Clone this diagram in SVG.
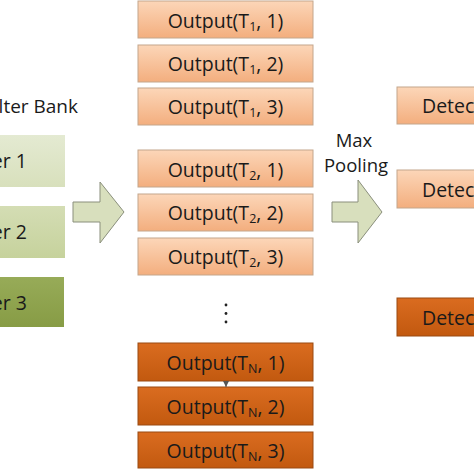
<svg xmlns="http://www.w3.org/2000/svg" width="474" height="474" viewBox="0 0 474 474">
<defs>
<linearGradient id="gLight" x1="0" y1="0" x2="0" y2="1">
<stop offset="0" stop-color="#fcd6b8"/>
<stop offset="1" stop-color="#f3ae7e"/>
</linearGradient>
<linearGradient id="gDark" x1="0" y1="0" x2="0" y2="1">
<stop offset="0" stop-color="#da6c20"/>
<stop offset="1" stop-color="#c2590f"/>
</linearGradient>
<linearGradient id="gF1" x1="0" y1="0" x2="0" y2="1">
<stop offset="0" stop-color="#e4ead2"/>
<stop offset="1" stop-color="#d8e0bc"/>
</linearGradient>
<linearGradient id="gF2" x1="0" y1="0" x2="0" y2="1">
<stop offset="0" stop-color="#d4ddb4"/>
<stop offset="1" stop-color="#c6d29c"/>
</linearGradient>
<linearGradient id="gF3" x1="0" y1="0" x2="0" y2="1">
<stop offset="0" stop-color="#97ab58"/>
<stop offset="1" stop-color="#879c45"/>
</linearGradient>
<marker id="tri" viewBox="0 0 10 10" refX="10" refY="5" markerWidth="6" markerHeight="6" orient="auto" markerUnits="userSpaceOnUse">
<path d="M0,0 L10,5 L0,10 z" fill="#555"/>
</marker>
<style>
text{font-family:"Open Sans","Liberation Sans",sans-serif;font-size:19.5px;fill:#1a1a1a}
.lbl{font-size:19px}
.mp{font-size:18.5px}
.lt{fill:url(#gLight);stroke:#c4a68c;stroke-width:1}
.dk{fill:url(#gDark);stroke:#9a4a12;stroke-width:1}
.blk{fill:#d8dfbd;stroke:#8a8f7c;stroke-width:1}
.sub{font-size:12.5px}
</style>
</defs>

<text x="78" y="113" text-anchor="end" class="lbl">lter Bank</text>

<g id="filter1"><rect x="-10" y="135" width="75" height="52" fill="url(#gF1)"/><text x="27" y="168" text-anchor="end">er 1</text></g>
<g id="filter2"><rect x="-10" y="206" width="75" height="52" fill="url(#gF2)"/><text x="27" y="239" text-anchor="end">er 2</text></g>
<g id="filter3"><rect x="-10" y="277" width="74" height="50" fill="url(#gF3)"/><text x="27" y="310" text-anchor="end">er 3</text></g>

<g id="arrow1"><path class="blk" d="M73,202 H100 V182 L124,212 L100,243 V222 H73 Z"/></g>

<g id="out_t1_1"><rect class="lt" x="138" y="1" width="175" height="37"/><text x="225.5" y="28" text-anchor="middle">Output(T<tspan class="sub" dy="3">1</tspan><tspan dy="-3">, 1)</tspan></text></g>
<g id="out_t1_2"><rect class="lt" x="138" y="45" width="175" height="37"/><text x="225.5" y="71" text-anchor="middle">Output(T<tspan class="sub" dy="3">1</tspan><tspan dy="-3">, 2)</tspan></text></g>
<g id="out_t1_3"><rect class="lt" x="138" y="88" width="175" height="37"/><text x="225.5" y="114" text-anchor="middle">Output(T<tspan class="sub" dy="3">1</tspan><tspan dy="-3">, 3)</tspan></text></g>

<g id="out_t2_1"><rect class="lt" x="138" y="150" width="175" height="37"/><text x="225.5" y="177" text-anchor="middle">Output(T<tspan class="sub" dy="3">2</tspan><tspan dy="-3">, 1)</tspan></text></g>
<g id="out_t2_2"><rect class="lt" x="138" y="194" width="175" height="37"/><text x="225.5" y="220" text-anchor="middle">Output(T<tspan class="sub" dy="3">2</tspan><tspan dy="-3">, 2)</tspan></text></g>
<g id="out_t2_3"><rect class="lt" x="138" y="238" width="175" height="37"/><text x="225.5" y="264" text-anchor="middle">Output(T<tspan class="sub" dy="3">2</tspan><tspan dy="-3">, 3)</tspan></text></g>

<g id="ellipsis" fill="#222"><circle cx="226" cy="305" r="1.4"/><circle cx="226" cy="313.5" r="1.4"/><circle cx="226" cy="322" r="1.4"/></g>

<g id="out_tn_1"><rect class="dk" x="138" y="343" width="175" height="38"/><text x="225.5" y="370" text-anchor="middle">Output(T<tspan class="sub" dy="3">N</tspan><tspan dy="-3">, 1)</tspan></text></g>
<g id="out_tn_2"><rect class="dk" x="138" y="387" width="175" height="38"/><text x="225.5" y="414" text-anchor="middle">Output(T<tspan class="sub" dy="3">N</tspan><tspan dy="-3">, 2)</tspan></text></g>
<g id="out_tn_3"><rect class="dk" x="138" y="432" width="175" height="36"/><text x="225.5" y="458" text-anchor="middle">Output(T<tspan class="sub" dy="3">N</tspan><tspan dy="-3">, 3)</tspan></text></g>

<g id="connectors"><line x1="226" y1="381" x2="226" y2="387" stroke="#555" stroke-width="1" marker-end="url(#tri)"/></g>

<g id="maxpool_label"><text x="354" y="147" text-anchor="middle" class="mp">Max</text><text x="356" y="172" text-anchor="middle" class="mp">Pooling</text></g>
<g id="arrow2"><path class="blk" d="M332,202 H358 V180 L382,212 L358,243 V222 H332 Z"/></g>

<g id="detect1"><rect class="lt" x="397" y="87" width="90" height="37"/><text x="422" y="113">Detec</text></g>
<g id="detect2"><rect class="lt" x="397" y="170" width="90" height="38"/><text x="422" y="197">Detec</text></g>
<g id="detect3"><rect class="dk" x="397" y="298" width="90" height="38"/><text x="422" y="325">Detec</text></g>
</svg>
